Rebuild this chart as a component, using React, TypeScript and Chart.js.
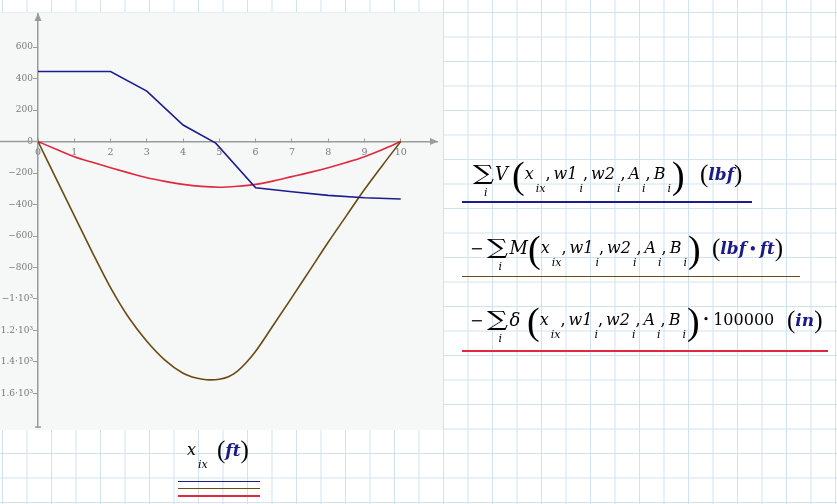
import React, { useEffect, useRef } from "react";
import { Chart, registerables } from "chart.js";

Chart.register(...registerables);

// ---------- data ----------
const shearX = [0, 2, 3, 4, 4.9, 6, 7, 8, 9, 10];
const shearV = [445, 445, 320, 105, -10, -293, -319, -342, -357, -365];

const momentX = [0, 0.5, 1, 1.5, 2, 2.5, 3, 3.5, 4, 4.25, 4.5, 4.75, 5, 5.25, 5.5, 5.75, 6, 6.5, 7, 7.5, 8, 8.5, 9, 9.5, 10];
const momentM = [0, -235, -470, -705, -928, -1118, -1268, -1388, -1472, -1495, -1508, -1514, -1510, -1494, -1458, -1402, -1332, -1162, -990, -815, -640, -472, -305, -150, 0];

const deflX = [0, 0.5, 1, 1.5, 2, 2.5, 3, 3.5, 4, 4.5, 5, 5.5, 6, 6.5, 7, 7.5, 8, 8.5, 9, 9.5, 10];
const deflD = [0, -49, -96, -132, -166, -199, -230, -253, -272, -285, -290, -284, -272, -250, -223, -196, -166, -133, -96, -50, 0];

const xTickValues = [0, 1, 2, 3, 4, 5, 6, 7, 8, 9, 10];
const yTickValues = [600, 400, 200, 0, -200, -400, -600, -800, -1000, -1200, -1400, -1600];
const yTickLabels = ["600", "400", "200", "0", "\u2212200", "\u2212400", "\u2212600", "\u2212800", "\u22121\u00b710\u00b3", "\u22121.2\u00b710\u00b3", "\u22121.4\u00b710\u00b3", "\u22121.6\u00b710\u00b3"];

const BLUE = "#1c1c8f";
const BROWN = "#6b4a12";
const RED = "#e2283f";
const AXIS = "#9a9a9a";
const LABEL = "#7a7a7a";
const NAVY = "#1b1b86";

const SERIF = '"DejaVu Serif", "Liberation Serif", serif';
const PAREN = '"Liberation Serif", serif';

const plotBg = {
  id: "plotBg",
  beforeDraw(chart: any) {
    const ctx = chart.ctx;
    ctx.save();
    ctx.fillStyle = "#f5f8f7";
    ctx.fillRect(0, 12.5, 443, 417.5);
    ctx.restore();
  },
};

const axisDecor = {
  id: "axisDecor",
  afterDraw(chart: any) {
    const ctx = chart.ctx;
    const xs = chart.scales.x;
    const ys = chart.scales.y;
    const y0 = ys.getPixelForValue(0);
    const x0 = xs.getPixelForValue(0);
    const area = chart.chartArea;
    ctx.save();
    ctx.strokeStyle = AXIS;
    ctx.fillStyle = AXIS;
    ctx.lineWidth = 1.5;
    ctx.beginPath();
    ctx.moveTo(0, y0);
    ctx.lineTo(x0, y0);
    ctx.stroke();
    ctx.beginPath();
    ctx.moveTo(x0 - 3, area.bottom);
    ctx.lineTo(x0 + 3, area.bottom);
    ctx.stroke();
    ctx.beginPath();
    ctx.moveTo(x0, area.top - 1);
    ctx.lineTo(x0 - 3.5, area.top + 7);
    ctx.lineTo(x0 + 3.5, area.top + 7);
    ctx.closePath();
    ctx.fill();
    ctx.beginPath();
    ctx.moveTo(area.right + 1, y0);
    ctx.lineTo(area.right - 7, y0 - 3.5);
    ctx.lineTo(area.right - 7, y0 + 3.5);
    ctx.closePath();
    ctx.fill();
    ctx.restore();
  },
};

function Sub({ t }: { t: string }) {
  return (
    <span style={{ position: "relative", top: 13, fontSize: 11, fontStyle: "italic", marginLeft: 2 }}>{t}</span>
  );
}

function Comma() {
  return <span style={{ marginRight: 3 }}>,</span>;
}

function Sum() {
  return (
    <span style={{ position: "relative", display: "inline-block", width: 20, lineHeight: 0 }}>
      <span style={{ display: "inline-block", fontSize: 21, transform: "scaleX(1.4)", transformOrigin: "left" }}>{"\u2211"}</span>
      <span style={{ position: "absolute", left: 11, top: 14, fontSize: 11, fontStyle: "italic", lineHeight: 1 }}>i</span>
    </span>
  );
}

function Big({ ch }: { ch: string }) {
  return (
    <span style={{ fontFamily: PAREN, fontSize: 38, lineHeight: 0, position: "relative", top: 9 }}>{ch}</span>
  );
}

const rowStyle = (left: number, baseline: number): React.CSSProperties => ({
  position: "absolute",
  left,
  top: baseline - 15.5,
  fontFamily: SERIF,
  fontSize: 16,
  lineHeight: "20px",
  whiteSpace: "nowrap",
  color: "#000",
});

function Prefix({ left, baseline, minus, letter }: { left: number; baseline: number; minus: boolean; letter: string }) {
  return (
    <div style={rowStyle(left, baseline)}>
      {minus ? <span style={{ marginRight: 4 }}>{"\u2212"}</span> : null}
      <Sum />
      <i style={{ fontSize: 18, marginLeft: 2 }}>{letter}</i>
    </div>
  );
}

function Args({ left, baseline, tail }: { left: number; baseline: number; tail?: React.ReactNode }) {
  return (
    <div style={rowStyle(left, baseline)}>
      <Big ch="(" />
      <i>x</i>
      <Sub t="ix" />
      <Comma />
      <i>w1</i>
      <Sub t="i" />
      <Comma />
      <i>w2</i>
      <Sub t="i" />
      <Comma />
      <i>A</i>
      <Sub t="i" />
      <Comma />
      <i>B</i>
      <Sub t="i" />
      <span style={{ marginLeft: 1 }} />
      <Big ch=")" />
      {tail}
    </div>
  );
}

function Unit({ left, baseline, children }: { left: number; baseline: number; children: React.ReactNode }) {
  return (
    <div style={rowStyle(left, baseline)}>
      <span style={{ fontFamily: PAREN, fontSize: 25, lineHeight: 0, position: "relative", top: 2 }}>(</span>
      <b style={{ color: NAVY, fontStyle: "italic", fontSize: 17 }}>{children}</b>
      <span style={{ fontFamily: PAREN, fontSize: 25, lineHeight: 0, position: "relative", top: 2 }}>)</span>
    </div>
  );
}

const line = (left: number, top: number, width: number, color: string): React.CSSProperties => ({
  position: "absolute",
  left,
  top,
  width,
  height: 1.5,
  background: color,
});

export default function App() {
  const ref = useRef<HTMLCanvasElement | null>(null);

  useEffect(() => {
    const canvas = ref.current;
    if (!canvas) return;
    const chart = new Chart(canvas, {
      type: "line",
      data: {
        datasets: [
          {
            data: shearX.map((x, i) => ({ x, y: shearV[i] })),
            borderColor: BLUE,
            borderWidth: 1.6,
            pointRadius: 0,
            tension: 0,
          },
          {
            data: momentX.map((x, i) => ({ x, y: momentM[i] })),
            borderColor: BROWN,
            borderWidth: 1.6,
            pointRadius: 0,
            cubicInterpolationMode: "monotone",
          },
          {
            data: deflX.map((x, i) => ({ x, y: deflD[i] })),
            borderColor: RED,
            borderWidth: 1.6,
            pointRadius: 0,
            cubicInterpolationMode: "monotone",
          },
        ],
      },
      options: {
        animation: false,
        responsive: false,
        events: [],
        layout: { padding: { left: 0, top: 14, right: 400, bottom: 77 } },
        plugins: { legend: { display: false }, tooltip: { enabled: false } },
        scales: {
          x: {
            type: "linear",
            min: 0,
            max: 11,
            position: { y: 0 } as any,
            afterBuildTicks: (s: any) => {
              s.ticks = xTickValues.map((v) => ({ value: v }));
            },
            grid: { drawOnChartArea: false, drawTicks: true, tickLength: -4, color: AXIS, tickWidth: 1 },
            border: { display: true, color: AXIS, width: 1.5 },
            ticks: {
              padding: 9,
              color: LABEL,
              font: { family: SERIF, size: 9.5 },
              maxRotation: 0,
              autoSkip: false,
              callback: (v: any) => String(v),
            },
          },
          y: {
            type: "linear",
            min: -1813,
            max: 810,
            position: "left",
            afterFit: (s: any) => {
              s.width = 38;
            },
            afterBuildTicks: (s: any) => {
              s.ticks = yTickValues.map((v) => ({ value: v }));
            },
            grid: { drawOnChartArea: false, drawTicks: true, tickLength: 5, color: AXIS, tickWidth: 1 },
            border: { display: true, color: AXIS, width: 1.5 },
            ticks: {
              padding: 0,
              color: LABEL,
              font: { family: SERIF, size: 9 },
              autoSkip: false,
              callback: (v: any) => {
                const i = yTickValues.indexOf(Number(v));
                return i >= 0 ? yTickLabels[i] : "";
              },
            },
          },
        },
      },
      plugins: [plotBg, axisDecor],
    } as any);
    return () => chart.destroy();
  }, []);

  const gridLine = "#d0e2f0";

  return (
    <div
      style={{
        position: "absolute",
        left: 0,
        top: 0,
        width: 837,
        height: 504,
        overflow: "hidden",
        backgroundColor: "#ffffff",
        backgroundImage: `linear-gradient(to right, ${gridLine} 1px, transparent 1px), linear-gradient(to bottom, ${gridLine} 1px, transparent 1px)`,
        backgroundSize: "24.5px 24.5px",
        backgroundPosition: "2px 12px",
      }}
    >
      <canvas ref={ref} width={837} height={504} style={{ position: "absolute", left: 0, top: 0 }} />

      <Prefix left={473} baseline={179} minus={false} letter="V" />
      <Args left={512} baseline={179} />
      <Unit left={700} baseline={179}>lbf</Unit>
      <div style={line(462, 201, 290, BLUE)} />

      <Prefix left={470} baseline={253} minus={true} letter="M" />
      <Args left={528} baseline={253} />
      <Unit left={712} baseline={253}>
        lbf<span style={{ fontSize: 12, margin: "0 3px", position: "relative", top: -1 }}>{"\u2022"}</span>ft
      </Unit>
      <div style={line(462, 275.5, 338, BROWN)} />

      <Prefix left={470} baseline={325} minus={true} letter={"\u03b4"} />
      <Args
        left={527}
        baseline={325}
        tail={
          <span>
            <span style={{ fontSize: 11, margin: "0 4px 0 3px", position: "relative", top: -2 }}>{"\u2022"}</span>100000
          </span>
        }
      />
      <Unit left={787} baseline={325}>in</Unit>
      <div style={line(462, 350, 366, RED)} />

      <div style={rowStyle(187, 455)}>
        <i>x</i>
        <Sub t="ix" />
      </div>
      <Unit left={217} baseline={455}>ft</Unit>
      <div style={line(178, 480.5, 82, BLUE)} />
      <div style={line(178, 487.5, 82, BROWN)} />
      <div style={line(178, 495, 82, RED)} />
    </div>
  );
}
